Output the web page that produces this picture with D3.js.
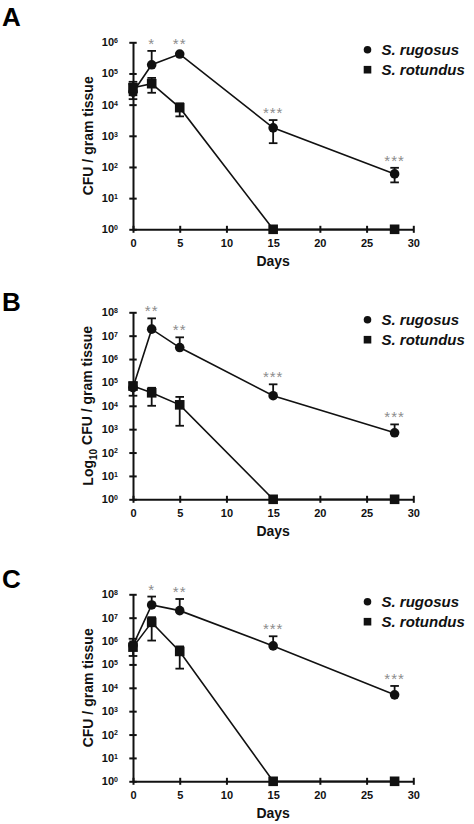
<!DOCTYPE html>
<html>
<head>
<meta charset="utf-8">
<script src="https://cdn.jsdelivr.net/npm/d3@7"></script>
<style>
  html, body { margin: 0; padding: 0; background: #fff; }
  svg { display: block; }
  text { font-family: "Liberation Sans", Arial, Helvetica, sans-serif; }
</style>
</head>
<body>
<svg id="chart" width="474" height="824"></svg>
<script>
// ---------- data ----------
const days = [0, 2, 5, 15, 28];
const seriesNames = ["S. rugosus", "S. rotundus"];
const xTicks = [0, 5, 10, 15, 20, 25, 30];

// Panel A
const aRugosus   = [2.5e4, 1.9e5, 4.2e5, 1.8e3, 60];
const aRugosusHi = [4.5e4, 5.3e5, null, 3.2e3, 94];
const aRugosusLo = [1.5e4, null, null, 580, 32];
const aRotundus   = [3.5e4, 4.7e4, 8e3, 1, 1];
const aRotundusHi = [5.4e4, 7.2e4, 1.1e4, null, null];
const aRotundusLo = [2.0e4, 2.4e4, 4.2e3, null, null];
const aStars = ["", "*", "**", "***", "***"];
const aYExponents = [0, 1, 2, 3, 4, 5, 6];

// Panel B
const bRugosus   = [6e4, 1.9e7, 3.1e6, 2.7e4, 700];
const bRugosusHi = [null, 5.5e7, 8.5e6, 8.3e4, 1.6e3];
const bRugosusLo = [null, null, null, null, null];
const bRotundus   = [7e4, 3.6e4, 1.1e4, 1, 1];
const bRotundusHi = [1.0e5, 5.9e4, 2.4e4, null, null];
const bRotundusLo = [2.7e4, 1.0e4, 1.4e3, null, null];
const bStars = ["", "**", "**", "***", "***"];
const bYExponents = [0, 1, 2, 3, 4, 5, 6, 7, 8];

// Panel C
const cRugosus   = [6.5e5, 3.5e7, 2.0e7, 6.2e5, 5e3];
const cRugosusHi = [null, 8e7, 6.3e7, 1.6e6, 1.2e4];
const cRugosusLo = [null, null, null, null, null];
const cRotundus   = [5.5e5, 6.3e6, 3.6e5, 1, 1];
const cRotundusHi = [1.25e6, 1.05e7, 5.9e5, null, null];
const cRotundusLo = [2.3e5, 1.05e6, 6.6e4, null, null];
const cStars = ["", "*", "**", "***", "***"];
const cYExponents = [0, 1, 2, 3, 4, 5, 6, 7, 8];

// ---------- layout ----------
const panels = [
  { letter: "A", letterY: 26, top: 42.3, exps: aYExponents, ylabel: "plain",
    rug: aRugosus, rugHi: aRugosusHi, rugLo: aRugosusLo,
    rot: aRotundus, rotHi: aRotundusHi, rotLo: aRotundusLo, stars: aStars },
  { letter: "B", letterY: 311, top: 312.3, exps: bYExponents, ylabel: "log",
    rug: bRugosus, rugHi: bRugosusHi, rugLo: bRugosusLo,
    rot: bRotundus, rotHi: bRotundusHi, rotLo: bRotundusLo, stars: bStars },
  { letter: "C", letterY: 588, top: 594.3, exps: cYExponents, ylabel: "plain",
    rug: cRugosus, rugHi: cRugosusHi, rugLo: cRugosusLo,
    rot: cRotundus, rotHi: cRotundusHi, rotLo: cRotundusLo, stars: cStars }
];

const X0 = 133, X1 = 413.3, PH = 187;
const svg = d3.select("#chart");

panels.forEach(p => {
  const g = svg.append("g");
  const top = p.top, bottom = p.top + PH;
  const maxExp = d3.max(p.exps);
  const x = d3.scaleLinear().domain([0, 30]).range([X0, X1]);
  const y = d3.scaleLog().domain([1, Math.pow(10, maxExp)]).range([bottom, top]);

  // panel letter
  g.append("text").attr("x", 2).attr("y", p.letterY)
    .attr("font-size", 26).attr("font-weight", "bold").text(p.letter);

  // x axis
  const xa = g.append("g").attr("transform", `translate(0,${bottom})`)
    .call(d3.axisBottom(x).tickValues(xTicks).tickSizeOuter(0).tickSizeInner(4).tickPadding(6));
  xa.select(".domain").attr("stroke", "#111").attr("stroke-width", 2);
  xa.selectAll(".tick line").attr("y1", -3.5).attr("y2", 3.5).attr("stroke", "#111").attr("stroke-width", 2);
  xa.selectAll(".tick text").attr("font-size", 11).attr("font-weight", "bold")
    .attr("fill", "#111").attr("font-family", "Liberation Sans, Arial, sans-serif").attr("dy", "0.71em");

  // y axis
  const ya = g.append("g").attr("transform", `translate(${X0},0)`)
    .call(d3.axisLeft(y).tickValues(p.exps.map(e => Math.pow(10, e)))
      .tickSizeOuter(0).tickSizeInner(4).tickPadding(11).tickFormat(() => ""));
  ya.select(".domain").attr("stroke", "#111").attr("stroke-width", 2);
  ya.selectAll(".tick line").attr("x1", -3.7).attr("x2", 3.7).attr("stroke", "#111").attr("stroke-width", 2);
  ya.selectAll(".tick text").each(function(d) {
    const t = d3.select(this);
    t.text(null).attr("font-size", 11).attr("font-weight", "bold").attr("fill", "#111")
      .attr("font-family", "Liberation Sans, Arial, sans-serif");
    t.append("tspan").text("10");
    t.append("tspan").attr("font-size", 7).attr("dy", "-0.45em")
      .text(Math.round(Math.log10(d)));
  });

  // axis titles
  g.append("text").attr("x", (X0 + X1) / 2).attr("y", bottom + 37)
    .attr("text-anchor", "middle").attr("font-size", 14).attr("font-weight", "bold")
    .attr("fill", "#111").text("Days");
  const yl = g.append("text")
    .attr("transform", `translate(93,${(top + bottom) / 2}) rotate(-90)`)
    .attr("text-anchor", "middle").attr("font-size", 14).attr("font-weight", "bold").attr("fill", "#111");
  if (p.ylabel === "log") {
    yl.append("tspan").text("Log");
    yl.append("tspan").attr("font-size", 10).attr("dy", "0.35em").text("10");
    yl.append("tspan").attr("dy", "-0.35em").text(" CFU / gram tissue");
  } else {
    yl.text("CFU / gram tissue");
  }

  const series = [
    { vals: p.rug, hi: p.rugHi, lo: p.rugLo, shape: "circle" },
    { vals: p.rot, hi: p.rotHi, lo: p.rotLo, shape: "square" }
  ];

  const line = d3.line().x((d, i) => x(days[i])).y(d => y(d));

  // lines
  series.forEach(s => {
    g.append("path").attr("d", line(s.vals)).attr("fill", "none")
      .attr("stroke", "#111").attr("stroke-width", 1.6);
  });

  // error bars
  series.forEach(s => {
    days.forEach((dd, i) => {
      [s.hi[i], s.lo[i]].forEach(e => {
        if (e == null) return;
        g.append("line").attr("x1", x(dd)).attr("x2", x(dd))
          .attr("y1", y(s.vals[i])).attr("y2", y(e))
          .attr("stroke", "#111").attr("stroke-width", 1.8);
        g.append("line").attr("x1", x(dd) - 4.3).attr("x2", x(dd) + 4.3)
          .attr("y1", y(e)).attr("y2", y(e))
          .attr("stroke", "#111").attr("stroke-width", 1.8);
      });
    });
  });

  // markers
  series.forEach(s => {
    days.forEach((dd, i) => {
      if (s.shape === "circle") {
        g.append("circle").attr("cx", x(dd)).attr("cy", y(s.vals[i])).attr("r", 4.8).attr("fill", "#111");
      } else {
        g.append("rect").attr("x", x(dd) - 4.8).attr("y", y(s.vals[i]) - 4.8)
          .attr("width", 9.6).attr("height", 9.6).attr("fill", "#111");
      }
    });
  });

  // significance stars
  days.forEach((dd, i) => {
    if (!p.stars[i]) return;
    const topVal = p.rugHi[i] != null ? p.rugHi[i] : p.rug[i];
    const cy = y(topVal) - (p.rugHi[i] != null ? 9 : 12);
    g.append("text").attr("x", x(dd)).attr("y", cy + 7)
      .attr("text-anchor", "middle").attr("font-size", 15).attr("letter-spacing", 1)
      .attr("fill", "#8c8c8c").text(p.stars[i]);
  });

  // legend
  const legY = [top + 7.4, top + 27.4];
  seriesNames.forEach((name, k) => {
    if (k === 0) {
      g.append("circle").attr("cx", 367.5).attr("cy", legY[k]).attr("r", 3.8).attr("fill", "#111");
    } else {
      g.append("rect").attr("x", 363.7).attr("y", legY[k] - 3.8).attr("width", 7.6).attr("height", 7.6).attr("fill", "#111");
    }
    g.append("text").attr("x", 381.5).attr("y", legY[k] + 5.2)
      .attr("font-size", 15).attr("font-weight", "bold").attr("font-style", "italic")
      .attr("fill", "#111").text(name);
  });
});
</script>
</body>
</html>
